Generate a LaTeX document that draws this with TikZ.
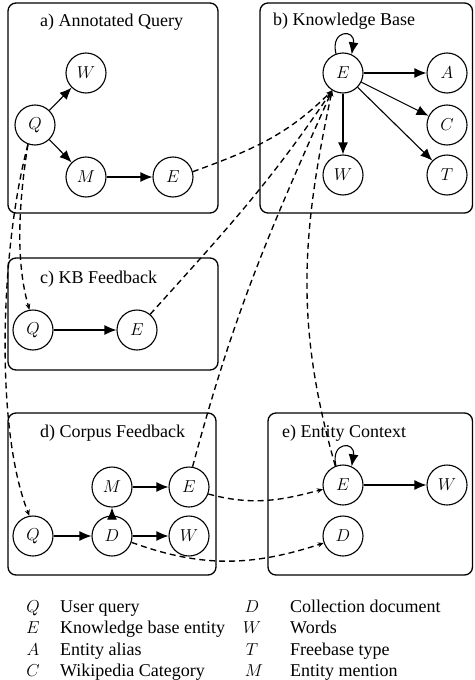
\documentclass[tikz,border=0pt]{standalone}
\usepackage{fontspec}
\setmainfont{Liberation Serif}
\usetikzlibrary{arrows.meta}
\begin{document}
\begin{tikzpicture}[x=1pt,y=1pt,
 var/.style={circle,draw,line width=1.1pt,minimum size=40pt,inner sep=0pt,font=\fontsize{19}{20}\selectfont},
 panel/.style={draw,line width=1.3pt,rounded corners=8pt},
 ttl/.style={font=\fontsize{18}{20}\selectfont,anchor=base west,inner sep=0pt},
 leg/.style={font=\fontsize{18}{20}\selectfont,inner sep=0pt},
 arr/.style={-{Latex[length=12pt,width=10pt]},line width=1.1pt},
 dep/.style={-{Stealth[length=6pt,width=5pt]},dash pattern=on 6pt off 4pt,line width=1.35pt},
]
\useasboundingbox (0,0) rectangle (474,-680);
% panels
\draw[panel] (8,-3) rectangle (218,-213);
\draw[panel] (260,-3) rectangle (472.5,-213);
\draw[panel] (8,-258) rectangle (218,-370);
\draw[panel] (8,-413) rectangle (216,-575);
\draw[panel] (268,-413) rectangle (472.5,-575);
% titles
\node[ttl] (ta) at (40,-26) {a) Annotated Query};
\node[ttl] (tb) at (273,-25) {b) Knowledge Base};
\node[ttl] (tc) at (40,-283) {c) KB Feedback};
\node[ttl] (td) at (40,-437) {d) Corpus Feedback};
\node[ttl] (te) at (282,-437) {e) Entity Context};
% a
\node[var] (aQ) at (35,-125) {$Q$};
\node[var] (aW) at (86,-73) {$W$};
\node[var] (aM) at (86,-177) {$M$};
\node[var] (aE) at (173,-177) {$E$};
% b
\node[var] (bE) at (343,-73) {$E$};
\node[var] (bA) at (447,-73) {$A$};
\node[var] (bC) at (447,-125) {$C$};
\node[var] (bT) at (447,-175) {$T$};
\node[var] (bW) at (343,-175) {$W$};
% c
\node[var] (cQ) at (33,-330) {$Q$};
\node[var] (cE) at (137,-330) {$E$};
% d
\node[var] (dQ) at (33,-536) {$Q$};
\node[var] (dD) at (112,-536) {$D$};
\node[var] (dM) at (112,-487) {$M$};
\node[var] (dE) at (189,-487) {$E$};
\node[var] (dW) at (189,-536) {$W$};
% e
\node[var] (eE) at (343,-485) {$E$};
\node[var] (eW) at (447,-485) {$W$};
\node[var] (eD) at (343,-536) {$D$};
% solid arrows
\draw[arr] (aQ) -- (aW);
\draw[arr] (aQ) -- (aM);
\draw[arr] (aM) -- (aE);
\draw[arr] (bE) -- (bA);
\draw[arr] (bE) -- (bC);
\draw[arr] (bE) -- (bT);
\draw[arr] (bE) -- (bW);
\draw[arr] (bE.110) .. controls +(-6,24) and +(4,26) .. (bE.65);
\draw[arr] (cQ) -- (cE);
\draw[arr] (dQ) -- (dD);
\draw[arr] (dD) -- (dM);
\draw[arr] (dM) -- (dE);
\draw[arr] (dD) -- (dW);
\draw[arr] (eE) -- (eW);
\draw[arr] (eE.110) .. controls +(-6,24) and +(4,26) .. (eE.65);
% dashed
\draw[dep] (aE.15) to[out=20,in=225] (bE.238);
\draw[dep] (cE.50) to[out=48,in=236] (bE.238);
\draw[dep] (dE.80) to[out=75,in=246] (bE.238);
\draw[dep] (eE.112) to[out=106,in=258] (bE.238);
\draw[dep] (aQ.250) .. controls (16,-220) and (18,-270) .. (cQ.100);
\draw[dep] (aQ.250) .. controls (0,-250) and (-5,-430) .. (dQ.100);
\draw[dep] (dE.-20) to[out=-15,in=195] (eE.192);
\draw[dep] (dD.-18) to[out=-20,in=198] (eD.200);
% legend
\node[leg,anchor=base] (lQ) at (33,-612) {$Q$};
\node[leg,anchor=base west] (lQt) at (60,-612) {User query};
\node[leg,anchor=base] (lE) at (33,-633.5) {$E$};
\node[leg,anchor=base west] (lEt) at (60,-633.5) {Knowledge base entity};
\node[leg,anchor=base] (lA) at (33,-655) {$A$};
\node[leg,anchor=base west] (lAt) at (60,-655) {Entity alias};
\node[leg,anchor=base] (lC) at (33,-676) {$C$};
\node[leg,anchor=base west] (lCt) at (60,-676) {Wikipedia Category};
\node[leg,anchor=base] (lD) at (252,-612) {$D$};
\node[leg,anchor=base west] (lDt) at (290,-612) {Collection document};
\node[leg,anchor=base] (lW) at (252,-633.5) {$W$};
\node[leg,anchor=base west] (lWt) at (290,-633.5) {Words};
\node[leg,anchor=base] (lT) at (252,-655) {$T$};
\node[leg,anchor=base west] (lTt) at (290,-655) {Freebase type};
\node[leg,anchor=base] (lM) at (254,-676) {$M$};
\node[leg,anchor=base west] (lMt) at (290,-676) {Entity mention};
\end{tikzpicture}
\end{document}
